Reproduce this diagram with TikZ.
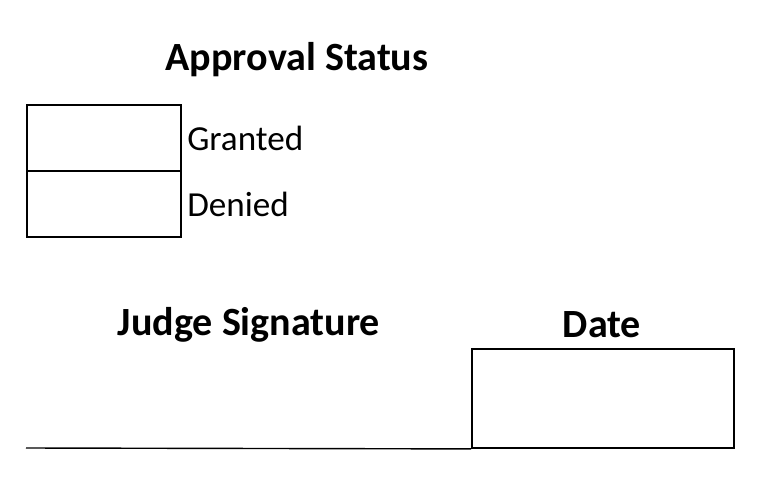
\documentclass[tikz,border=0pt]{standalone}
\usepackage{fontspec}
\setmainfont{Carlito}
\usetikzlibrary{positioning}

\begin{document}
\begin{tikzpicture}
      [
        x=0.02cm, y=-0.02cm,
        box/.style={draw=black, line width=1.1pt, minimum width=3.08cm, minimum height=1.33cm, inner sep=0pt, anchor=north west},
        head/.style={font=\fontsize{22.8}{27}\selectfont\bfseries},
        option/.style={font=\fontsize{20}{24}\selectfont, anchor=west, inner sep=0pt}
      ]
      \useasboundingbox (0,0) rectangle (769,478);
      % approval
      \node [head] (status) at (297,60) {Approval Status};
      \node [box] (granted) at (26,104) {};
      \node [box] (denied) at (26,170) {};
      \node [option, right=5 of granted.east] (grantedtext) {Granted};
      \node [option, right=5 of denied.east] (deniedtext) {Denied};
      % signature
      \node [head] (judge) at (249,325) {Judge Signature};
      \node [head] (date) at (602,325) {Date};
      \node [box, minimum width=5.24cm, minimum height=1.98cm] (datebox) at (471,348) {};
      \coordinate (signstart) at (26,448);
      \draw [line width=0.8pt] (signstart) -- (datebox.south west);
\end{tikzpicture}
\end{document}
